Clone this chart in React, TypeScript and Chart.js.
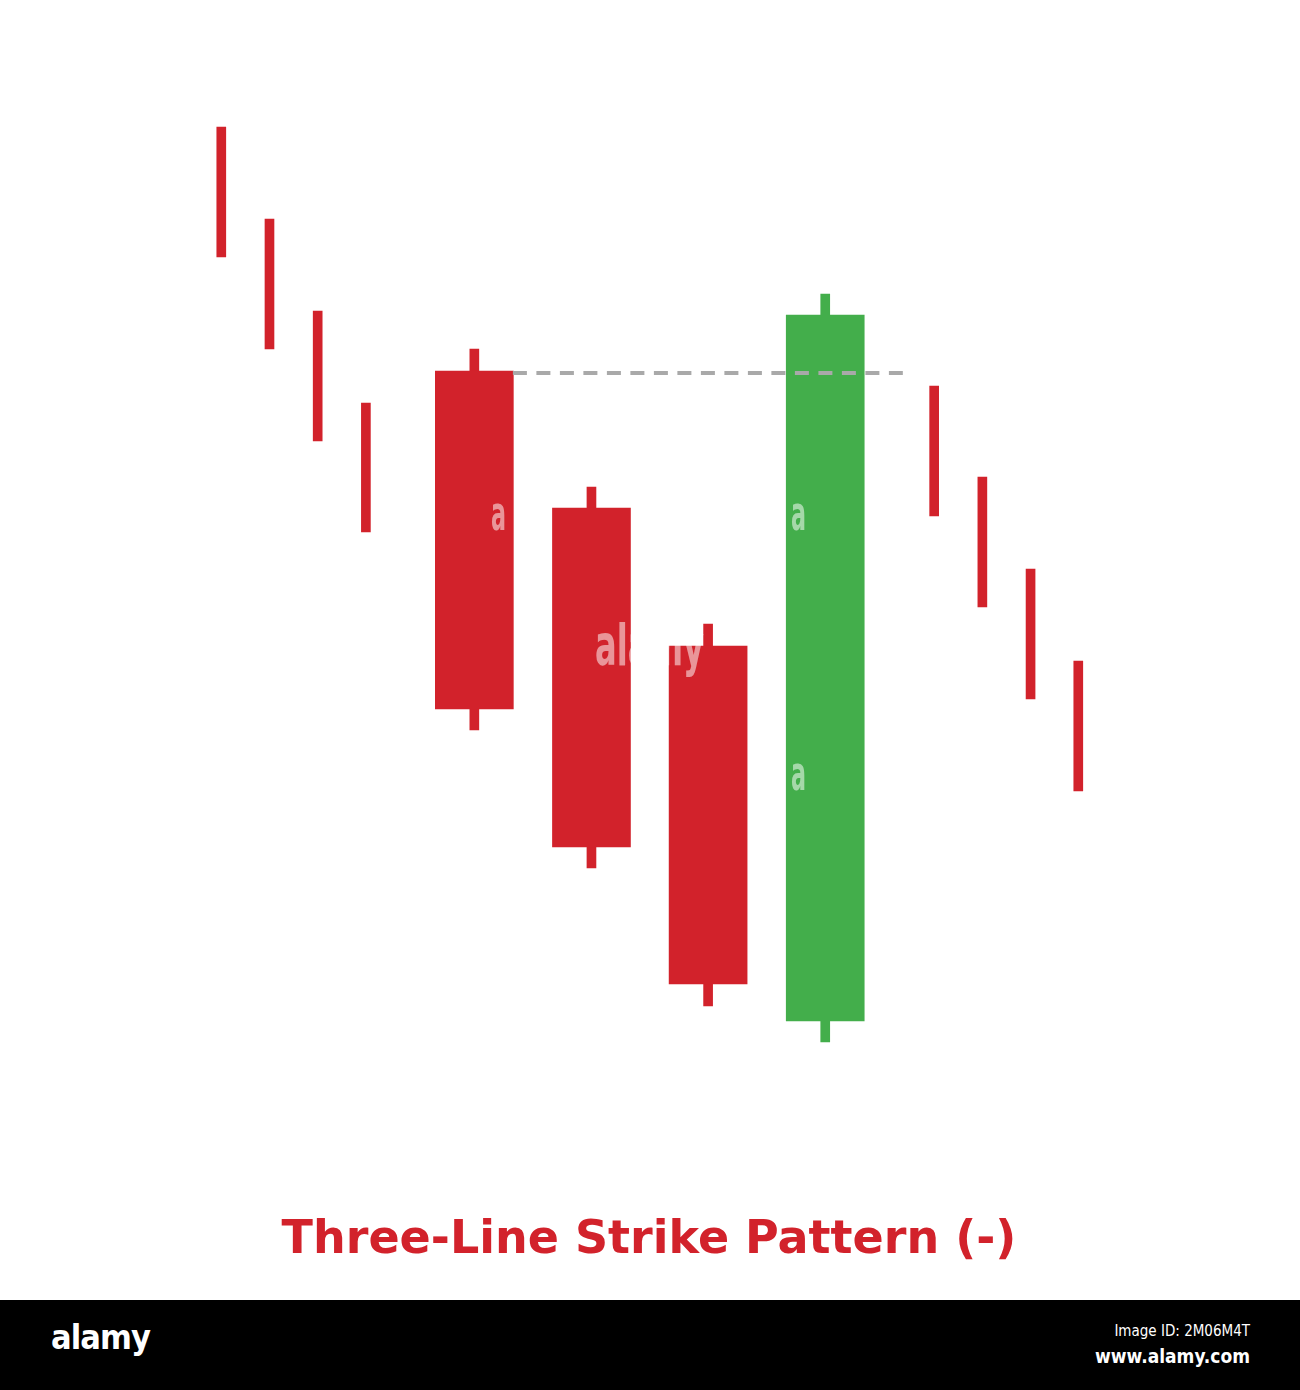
import React, { useEffect, useRef } from "react";
import { Chart, registerables } from "chart.js";

Chart.register(...registerables);

// ---- data ----
const sessions = [1, 2, 3, 4, 6.25, 8.68, 11.1, 13.53, 15.79, 16.79, 17.79, 18.78];
const highs = [97.3, 88.1, 78.9, 69.7, 75.1, 61.3, 47.6, 80.6, 71.4, 62.3, 53.1, 43.9];
const lows = [84.3, 75.1, 65.9, 56.8, 37.0, 23.2, 9.4, 5.8, 58.4, 49.3, 40.1, 30.9];
const opens: (number | null)[] = [null, null, null, null, 72.9, 59.2, 45.4, 7.9, null, null, null, null];
const closes: (number | null)[] = [null, null, null, null, 39.1, 25.3, 11.6, 78.5, null, null, null, null];
const strikeLevel = 72.7;
const strikeFrom = 7.05;
const strikeTo = 15.14;
const titleText = "Three-Line Strike Pattern (-)";

const RED = "#D2222B";
const GREEN = "#43AE4B";
const GRAY = "#A9A9A9";

const colorFor = (i: number) => {
  const o = opens[i];
  const c = closes[i];
  if (o !== null && c !== null && c > o) return GREEN;
  return RED;
};

const watermarkPlugin = {
  id: "watermark",
  afterDatasetsDraw(chart: any) {
    const ctx = chart.ctx as CanvasRenderingContext2D;
    ctx.save();
    ctx.fillStyle = "rgba(255,255,255,0.52)";
    ctx.textBaseline = "alphabetic";
    const drawFit = (text: string, size: number, left: number, baseline: number, width: number) => {
      ctx.font = `bold ${size}px 'DejaVu Sans', sans-serif`;
      const w = ctx.measureText(text).width;
      ctx.save();
      ctx.translate(left, baseline);
      ctx.scale(width / w, 1);
      ctx.fillText(text, 0, 0);
      ctx.restore();
    };
    drawFit("alamy", 57, 595, 665, 109);
    drawFit("a", 48, 491, 530, 15);
    drawFit("a", 48, 791, 530, 15);
    drawFit("a", 48, 791, 790, 15);
    ctx.restore();
  },
};

export default function App() {
  const ref = useRef<HTMLCanvasElement | null>(null);

  useEffect(() => {
    document.body.style.margin = "0";
    if (!ref.current) return;
    const bodyIdx = sessions.map((_, i) => i).filter((i) => opens[i] !== null);
    const chart = new Chart(ref.current, {
      type: "bar",
      data: {
        datasets: [
          {
            type: "line",
            data: [
              { x: strikeFrom, y: strikeLevel },
              { x: strikeTo, y: strikeLevel },
            ],
            borderColor: GRAY,
            borderWidth: 4,
            borderDash: [14, 9.5],
            borderCapStyle: "butt",
            pointRadius: 0,
            fill: false,
            order: 0,
          } as any,
          {
            type: "bar",
            data: bodyIdx.map((i) => ({ x: sessions[i], y: [opens[i], closes[i]] })),
            backgroundColor: bodyIdx.map((i) => colorFor(i)),
            barThickness: 78,
            grouped: false,
            borderWidth: 0,
            order: 1,
          } as any,
          {
            type: "bar",
            data: sessions.map((s, i) => ({ x: s, y: [lows[i], highs[i]] })),
            backgroundColor: sessions.map((_, i) => colorFor(i)),
            barThickness: 9,
            grouped: false,
            borderWidth: 0,
            order: 2,
          } as any,
        ],
      },
      options: {
        animation: false,
        responsive: false,
        devicePixelRatio: 1,
        layout: { padding: 0 },
        plugins: {
          legend: { display: false },
          tooltip: { enabled: false },
          title: { display: false },
        },
        scales: {
          x: {
            type: "linear",
            min: -3.591,
            max: 23.38,
            offset: false,
            display: false,
          },
          y: {
            type: "linear",
            min: -20,
            max: 110,
            display: false,
          },
        },
      } as any,
      plugins: [watermarkPlugin],
    });
    return () => chart.destroy();
  }, []);

  return (
    <div
      style={{
        position: "absolute",
        top: 0,
        left: 0,
        width: 1300,
        height: 1390,
        background: "#ffffff",
        overflow: "hidden",
      }}
    >
      <canvas
        ref={ref}
        width={1300}
        height={1300}
        style={{ position: "absolute", left: 0, top: 0, width: 1300, height: 1300 }}
      />
      <div
        style={{
          position: "absolute",
          left: 0,
          top: 1214,
          width: 1298,
          textAlign: "center",
          fontFamily: "'DejaVu Sans', Verdana, sans-serif",
          fontWeight: "bold",
          fontSize: 46,
          lineHeight: 1,
          color: RED,
          whiteSpace: "nowrap",
        }}
      >
        {titleText}
      </div>
      <div
        style={{
          position: "absolute",
          left: 0,
          top: 1300,
          width: 1300,
          height: 90,
          background: "#000000",
        }}
      >
        <div
          style={{
            position: "absolute",
            left: 51,
            top: 20,
            fontFamily: "'DejaVu Sans', sans-serif",
            fontWeight: "bold",
            fontSize: 34,
            lineHeight: 1,
            letterSpacing: -1,
            color: "#ffffff",
            transform: "scaleX(0.9)",
            transformOrigin: "left top",
            whiteSpace: "nowrap",
          }}
        >
          alamy
        </div>
        <div
          style={{
            position: "absolute",
            right: 50,
            top: 24,
            fontFamily: "'DejaVu Sans Condensed', 'DejaVu Sans', sans-serif",
            fontStretch: "condensed",
            fontSize: 15,
            lineHeight: 1,
            color: "#ffffff",
            whiteSpace: "nowrap",
          }}
        >
          Image ID: 2M06M4T
        </div>
        <div
          style={{
            position: "absolute",
            right: 50,
            top: 47,
            fontFamily: "'DejaVu Sans Condensed', 'DejaVu Sans', sans-serif",
            fontStretch: "condensed",
            fontWeight: "bold",
            fontSize: 19,
            lineHeight: 1,
            color: "#ffffff",
            whiteSpace: "nowrap",
          }}
        >
          www.alamy.com
        </div>
      </div>
    </div>
  );
}
